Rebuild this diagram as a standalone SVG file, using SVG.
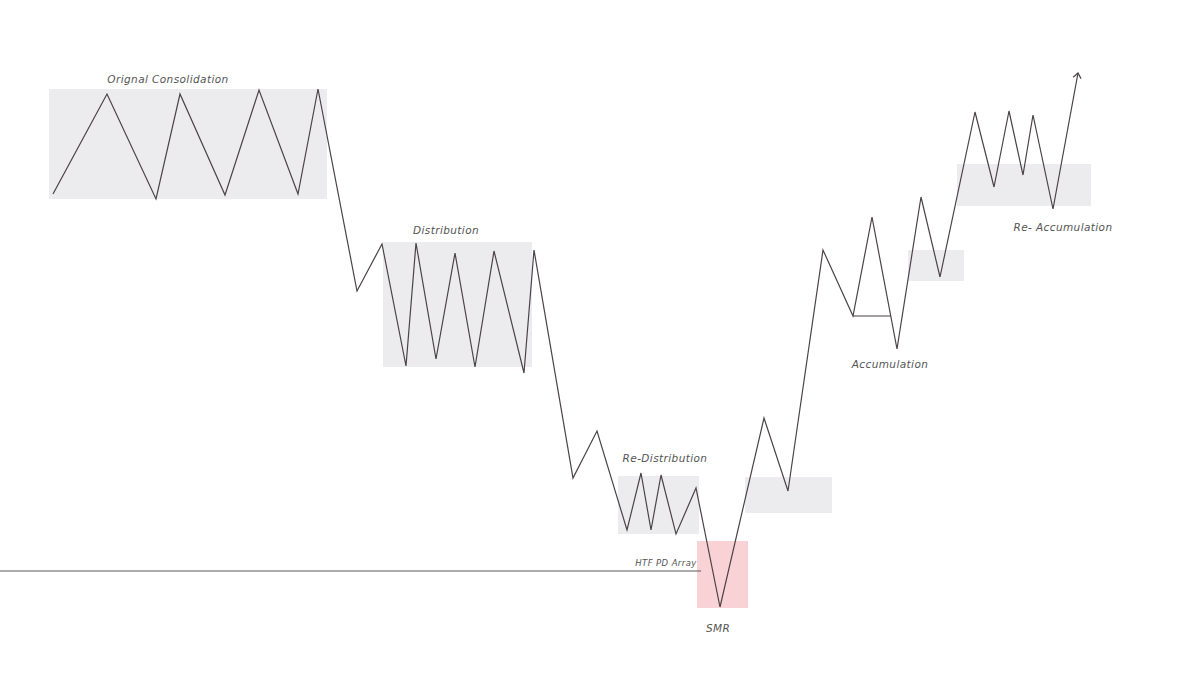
<svg xmlns="http://www.w3.org/2000/svg" width="1200" height="680" viewBox="0 0 1200 680">
<defs>
<style>
.zone{fill:#ececef}
.smr{fill:#f9d2d6}
.price{fill:none;stroke:#4b4347;stroke-width:1.2;stroke-linejoin:miter}
.lvl{fill:none;stroke:#5a5a5a;stroke-width:1}
.lbl{font-family:"DejaVu Sans",sans-serif;font-style:italic;font-size:10.5px;fill:#555555;text-anchor:middle;letter-spacing:0.4px}
.sm{font-size:8.5px}
</style>
<marker id="arr" viewBox="0 0 10 10" refX="9" refY="5" markerWidth="10" markerHeight="10" markerUnits="userSpaceOnUse" orient="auto">
<path d="M4,1 L9,5 L4,9" fill="none" stroke="#4b4347" stroke-width="1.2"/>
</marker>
</defs>
<rect width="1200" height="680" fill="#ffffff"/>
<g id="zone-original"><rect class="zone" x="49" y="89" width="278" height="110"/><text class="lbl" x="168" y="83">Orignal Consolidation</text></g>
<g id="zone-distribution"><rect class="zone" x="383" y="242" width="149" height="125"/><text class="lbl" x="446" y="234">Distribution</text></g>
<g id="zone-redistribution"><rect class="zone" x="618" y="476" width="81" height="58"/><text class="lbl" x="665" y="462">Re-Distribution</text></g>
<g id="zone-smr"><rect class="smr" x="697" y="541" width="51" height="67"/><text class="lbl" x="718" y="632">SMR</text></g>
<g id="zone-fvg1"><rect class="zone" x="745" y="477" width="87" height="36"/></g>
<g id="zone-fvg2"><rect class="zone" x="908" y="250" width="56" height="31"/></g>
<g id="zone-reaccumulation"><rect class="zone" x="957" y="164" width="134" height="42"/><text class="lbl" x="1063" y="231">Re- Accumulation</text></g>
<g id="label-accumulation"><text class="lbl" x="890" y="368">Accumulation</text></g>
<g id="htf-level"><line class="lvl" x1="0" y1="571" x2="701" y2="571"/><text class="lbl sm" x="666" y="566">HTF PD Array</text></g>
<g id="connectors">
<polyline class="price" marker-end="url(#arr)" points="53,194 107,94 156,199 180,94 225,195 259,90 298,194 318,89 357,291 382,244 406,366 416,243 436,359 455,253 475,367 494,251 524,373 534,250 573,478 597,431 627,530 641,473 651,530 661,475 676,534 696,488 720,607 764,418 788,491 823,250 853,316 872,217 897,349 921,197 940,277 975,112 994,187 1009,111 1023,175 1033,115 1053,209 1078,73"/>
<line class="price" x1="853" y1="316" x2="891" y2="316"/>
</g>
</svg>
